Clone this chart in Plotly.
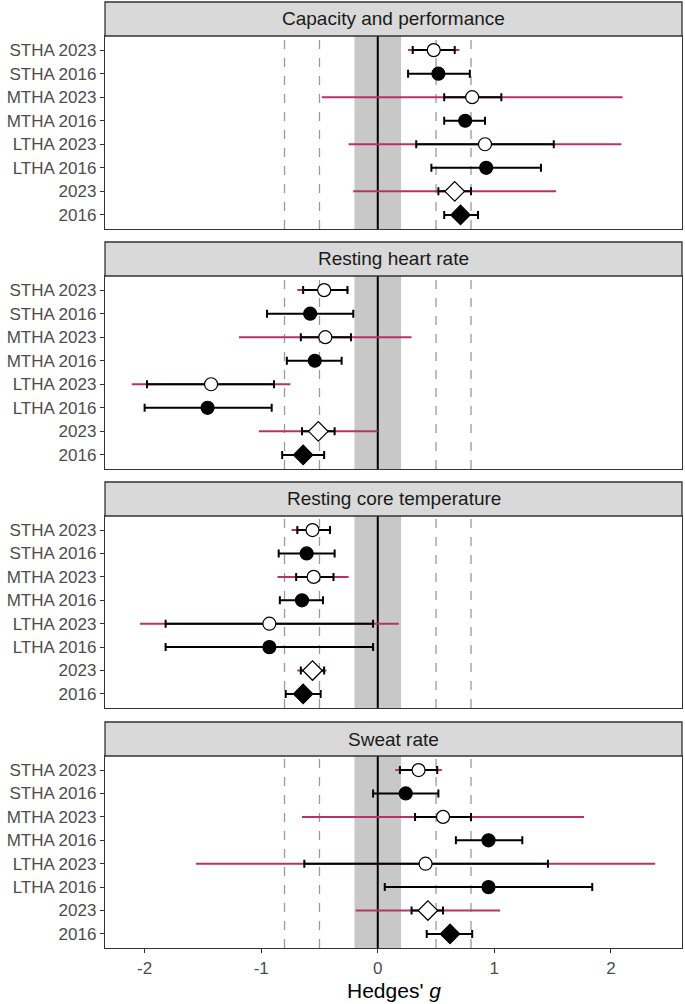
import plotly.graph_objects as go

rows = ["STHA 2023", "STHA 2016", "MTHA 2023", "MTHA 2016",
        "LTHA 2023", "LTHA 2016", "2023", "2016"]
panels = ["Capacity and performance", "Resting heart rate",
          "Resting core temperature", "Sweat rate"]

# point estimates (Hedges' g)
est_cap = [0.48, 0.52, 0.81, 0.75, 0.92, 0.93, 0.66, 0.71]
est_hr = [-0.46, -0.58, -0.45, -0.54, -1.43, -1.46, -0.51, -0.64]
est_tc = [-0.56, -0.61, -0.55, -0.65, -0.93, -0.93, -0.56, -0.64]
est_sw = [0.35, 0.24, 0.56, 0.95, 0.41, 0.95, 0.43, 0.62]

# 95% confidence intervals
ci_lo_cap = [0.30, 0.26, 0.57, 0.57, 0.33, 0.46, 0.52, 0.57]
ci_hi_cap = [0.66, 0.79, 1.06, 0.92, 1.51, 1.40, 0.80, 0.86]
ci_lo_hr = [-0.64, -0.95, -0.66, -0.78, -1.98, -2.00, -0.65, -0.82]
ci_hi_hr = [-0.26, -0.21, -0.23, -0.31, -0.89, -0.91, -0.37, -0.46]
ci_lo_tc = [-0.69, -0.85, -0.70, -0.84, -1.82, -1.82, -0.66, -0.79]
ci_hi_tc = [-0.41, -0.37, -0.38, -0.47, -0.04, -0.04, -0.46, -0.49]
ci_lo_sw = [0.19, -0.04, 0.32, 0.67, -0.63, 0.06, 0.29, 0.42]
ci_hi_sw = [0.51, 0.52, 0.80, 1.24, 1.46, 1.84, 0.56, 0.81]

# prediction intervals (None = not shown)
pi_lo_cap = [0.26, None, -0.48, None, -0.25, None, -0.21, None]
pi_hi_cap = [0.70, None, 2.10, None, 2.09, None, 1.53, None]
pi_lo_hr = [-0.69, None, -1.19, None, -2.11, None, -1.02, None]
pi_hi_hr = [-0.25, None, 0.29, None, -0.75, None, 0.00, None]
pi_lo_tc = [-0.74, None, -0.86, None, -2.04, None, -0.69, None]
pi_hi_tc = [-0.40, None, -0.25, None, 0.18, None, -0.44, None]
pi_lo_sw = [0.15, None, -0.65, None, -1.56, None, -0.19, None]
pi_hi_sw = [0.55, None, 1.77, None, 2.38, None, 1.05, None]

x_ticks = [-2, -1, 0, 1, 2]
ref_dashed = [-0.8, -0.5, 0.5, 0.8]
band = [-0.2, 0.2]

data = [
    (est_cap, ci_lo_cap, ci_hi_cap, pi_lo_cap, pi_hi_cap),
    (est_hr, ci_lo_hr, ci_hi_hr, pi_lo_hr, pi_hi_hr),
    (est_tc, ci_lo_tc, ci_hi_tc, pi_lo_tc, pi_hi_tc),
    (est_sw, ci_lo_sw, ci_hi_sw, pi_lo_sw, pi_hi_sw),
]

W, H = 685, 1004
ML, MR, MT, MB = 105, 3, 2, 56
plot_h = H - MT - MB

def py(p):
    return (H - MB - p) / plot_h

# pixel positions for plot panels and strips
panel_px = [(36, 229), (276, 469), (516, 708), (756, 948)]
strip_px = [(2, 36), (242, 276), (482, 516), (722, 756)]

fig = go.Figure()
FONT = "Liberation Sans, Arial, sans-serif"
CRIMSON = "#B5336A"
cat_order = rows[::-1]

for i, (est, clo, chi, plo, phi) in enumerate(data):
    ax = "" if i == 0 else str(i + 1)
    xr, yr = "x" + ax, "y" + ax
    # prediction intervals
    px, pyv = [], []
    for r, a, b in zip(rows, plo, phi):
        if a is not None:
            px += [a, b, None]
            pyv += [r, r, None]
    fig.add_trace(go.Scatter(x=px, y=pyv, mode="lines",
                             line=dict(color=CRIMSON, width=2),
                             xaxis=xr, yaxis=yr, showlegend=False,
                             hoverinfo="skip"))
    # CI with caps + markers
    colors, symbols, sizes = [], [], []
    for r in rows:
        filled = r.endswith("2016")
        colors.append("black" if filled else "white")
        diamond = r in ("2023", "2016")
        symbols.append("diamond" if diamond else "circle")
        sizes.append(15 if diamond else 13)
    fig.add_trace(go.Scatter(
        x=est, y=rows, mode="markers",
        marker=dict(color=colors, symbol=symbols, size=sizes, opacity=1,
                    line=dict(color="black", width=1.2)),
        error_x=dict(type="data", symmetric=False,
                     array=[h - e for h, e in zip(chi, est)],
                     arrayminus=[e - l for e, l in zip(est, clo)],
                     color="black", thickness=2, width=4),
        xaxis=xr, yaxis=yr, showlegend=False))

    # background reference shapes
    fig.add_shape(type="rect", xref=xr, yref=yr + " domain",
                  x0=band[0], x1=band[1], y0=0, y1=1,
                  fillcolor="#C8C8C8", line=dict(width=0), layer="below")
    for d in ref_dashed:
        fig.add_shape(type="line", xref=xr, yref=yr + " domain",
                      x0=d, x1=d, y0=0, y1=1,
                      line=dict(color="#9A9A9A", width=1.3, dash="dash"),
                      layer="below")
    fig.add_shape(type="line", xref=xr, yref=yr + " domain",
                  x0=0, x1=0, y0=0, y1=1,
                  line=dict(color="black", width=2), layer="below")

    p0, p1 = panel_px[i]
    s0, s1 = strip_px[i]
    # strip
    fig.add_shape(type="rect", xref="paper", yref="paper",
                  x0=0, x1=1, y0=py(s1), y1=py(s0),
                  fillcolor="#D9D9D9", line=dict(color="#333333", width=1.3))
    fig.add_annotation(text=panels[i], xref="paper", yref="paper",
                       x=0.5, y=(py(s0) + py(s1)) / 2, showarrow=False,
                       font=dict(size=19, color="#1A1A1A", family=FONT),
                       xanchor="center", yanchor="middle")

    fig.layout["xaxis" + ax] = dict(
        domain=[0, 1], range=[-2.34, 2.61], anchor=yr, automargin=False,
        tickvals=x_ticks, ticktext=[str(t) for t in x_ticks],
        showticklabels=(i == 3), ticks="outside" if i == 3 else "",
        ticklen=4, tickcolor="#333333", tickwidth=1.2,
        showgrid=False, zeroline=False,
        showline=True, mirror=True, linecolor="#333333", linewidth=1.3,
        tickfont=dict(size=17, color="#4D4D4D", family=FONT),
        matches="x" if i > 0 else None,
    )
    fig.layout["yaxis" + ax] = dict(
        domain=[py(p1), py(p0)], anchor=xr, automargin=False,
        type="category", categoryorder="array", categoryarray=cat_order,
        range=[-0.6, 7.6],
        ticks="outside", ticklen=4, tickcolor="#333333", tickwidth=1.2,
        showgrid=False, zeroline=False,
        showline=True, mirror=True, linecolor="#333333", linewidth=1.3,
        tickfont=dict(size=17, color="#4D4D4D", family=FONT),
    )

fig.add_annotation(text="Hedges' <i>g</i>", xref="paper", yref="paper",
                   x=0.5, y=py(990), showarrow=False,
                   xanchor="center", yanchor="middle",
                   font=dict(size=21, color="black", family=FONT))

fig.update_layout(
    width=W, height=H,
    margin=dict(l=ML, r=MR, t=MT, b=MB, autoexpand=False),
    plot_bgcolor="white", paper_bgcolor="white",
    font=dict(family=FONT),
)

fig.write_html(
    "out.html",
    config={"displayModeBar": False},
    post_script="document.body.style.margin='0';"
                "document.body.style.padding='0';"
                "document.body.style.overflow='hidden';",
)
